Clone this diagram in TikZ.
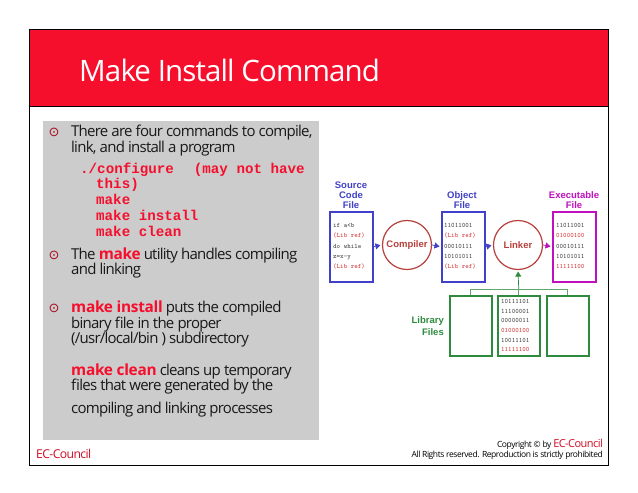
\documentclass[tikz,border=0pt]{standalone}
\usepackage{fontspec}
\setmainfont{Open Sans}
\newfontfamily\titlef[LetterSpace=-3]{Open Sans}
\newfontfamily\bodyf[LetterSpace=-5]{Open Sans}
\newfontfamily\boldf[LetterSpace=-2]{Open Sans Bold}
\newfontfamily\monof{Liberation Mono Bold}
\newfontfamily\labf{Liberation Sans Bold}
\newfontfamily\symf{DejaVu Sans}
\usetikzlibrary{arrows.meta}
\definecolor{slidered}{HTML}{F50F2D}
\definecolor{panelgray}{HTML}{CCCCCC}
\definecolor{circred}{HTML}{B8403C}
\definecolor{fblue}{HTML}{4040C8}
\definecolor{fmag}{HTML}{C010BE}
\definecolor{fgreen}{HTML}{2E8B3E}
\definecolor{libred}{HTML}{D84040}
\newcommand{\rd}[1]{{\boldf\fontsize{15.4}{15}\selectfont\textcolor{slidered}{#1}}}
\tikzset{x=1pt,y=-1pt,
 body/.style={anchor=base west,inner sep=0,font=\bodyf\fontsize{15}{15}\selectfont,text=black!90},
 code/.style={anchor=base west,inner sep=0,font=\monof\fontsize{14.2}{14.2}\selectfont,text=slidered},
 bul/.style={anchor=center,inner sep=0,font=\symf\fontsize{13}{13}\selectfont,text=slidered!70!black},
 filebox/.style={draw=#1,line width=1.5pt,minimum width=43pt,minimum height=70pt,inner sep=0,anchor=north west},
 libbox/.style={draw=fgreen,line width=1.5pt,minimum width=42pt,minimum height=60pt,inner sep=0,anchor=north west},
 proc/.style={circle,draw=circred,line width=1.2pt,minimum size=49pt,inner sep=0,font=\labf\fontsize{9.5}{9.5}\selectfont,text=circred},
 flab/.style={inner sep=0,align=center,font=\labf\fontsize{9.5}{10.2}\selectfont,text=#1},
 ftxt/.style={anchor=base west,inner sep=0,font=\ttfamily\bfseries\fontsize{6.7}{6.7}\selectfont,text=#1},
 flow/.style={draw=#1,line width=0.7pt,shorten >=1.5pt,-{Triangle[length=5pt,width=6pt]}},
 glink/.style={draw=fgreen!75,line width=0.8pt}
}
\begin{document}
\begin{tikzpicture}
\useasboundingbox (0,0) rectangle (638,493);
\fill[white] (0,0) rectangle (638,493);
\fill[slidered] (29,29) rectangle (608,106);
\fill[panelgray] (43,121) rectangle (319,440);
\draw[black,line width=1pt] (29,29) rectangle (608,465);
\draw[black,line width=1pt] (29,106) -- (608,106);
\node[anchor=base west,inner sep=0,text=white,font=\titlef\fontsize{29.5}{29.5}\selectfont] (title) at (79,81) {Make Install Command};
% bullets and text
\node[bul] (b1) at (54,132) {⊙};
\node[body] (t1) at (71,136) {There are four commands to compile,};
\node[body] (t2) at (71,152) {link, and install a program};
\node[code] (c1) at (80,173) {./configure\hskip 20pt(may not have};
\node[code] (c2) at (96,188) {this)};
\node[code] (c3) at (96,204) {make};
\node[code] (c4) at (96,220) {make install};
\node[code] (c5) at (96,236) {make clean};
\node[bul] (b2) at (54,255) {⊙};
\node[body] (t3) at (71,259) {The \rd{make} utility handles compiling};
\node[body] (t4) at (71,274) {and linking};
\node[bul] (b3) at (54,308) {⊙};
\node[body] (t5) at (71,312) {\rd{make install} puts the compiled};
\node[body] (t6) at (71,328) {binary file in the proper};
\node[body] (t7) at (71,343) {(/usr/local/bin ) subdirectory};
\node[body] (t8) at (71,375) {\rd{make clean} cleans up temporary};
\node[body] (t9) at (71,390) {files that were generated by the};
\node[body] (t10) at (71,413) {compiling and linking processes};
% footer
\node[anchor=base west,inner sep=0,text=slidered!85!black,font=\bodyf\fontsize{12.2}{12.2}\selectfont] (ec) at (36,458) {EC-Council};
\node[anchor=base east,inner sep=0,font=\bodyf\fontsize{8.5}{8.5}\selectfont] (cp) at (603,447) {Copyright © by \textcolor{slidered!85!black}{\fontsize{11}{11}\selectfont EC-Council}};
\node[anchor=base east,inner sep=0,font=\bodyf\fontsize{8.5}{8.5}\selectfont] (rr) at (603,457) {All Rights reserved. Reproduction is strictly prohibited};
% diagram
\node[flab=fblue,anchor=south] (ls) at (351,209) {Source\\Code\\File};
\node[flab=fblue,anchor=south] (lo) at (462,209) {Object\\File};
\node[flab=fmag,anchor=south] (le) at (574,209) {Executable\\File};
\node[filebox=fblue] (src) at (329,211) {};
\node[filebox=fblue] (obj) at (441,211) {};
\node[filebox=fmag] (exe) at (552,211) {};
\node[proc] (comp) at (407,245) {Compiler};
\node[proc] (link) at (518,245) {Linker};
\node[libbox] (l1) at (449,295) {};
\node[libbox] (l2) at (497,295) {};
\node[libbox] (l3) at (546,295) {};
\node[anchor=east,inner sep=0,align=right,font=\labf\fontsize{9.5}{11.5}\selectfont,text=fgreen] (ll) at (444,326) {Library\\Files};
\foreach \t/\c/\y/\n in {if a<b/black!70/227/a,(Lib ref)/libred/237/b,do while/black!70/248/c,z=x-y/black!70/258/d,(Lib ref)/libred/268/e}
  \node[ftxt=\c] (s\n) at (333,\y) {\t};
\foreach \t/\c/\y/\n in {11011001/black!70/227/a,(Lib ref)/libred/237/b,00010111/black!70/248/c,10101011/black!70/258/d,(Lib ref)/libred/268/e}
  \node[ftxt=\c] (o\n) at (444,\y) {\t};
\foreach \t/\c/\y/\n in {11011001/black!70/227/a,01000100/libred/237/b,00010111/black!70/248/c,10101011/black!70/258/d,11111100/libred/268/e}
  \node[ftxt=\c] (x\n) at (556,\y) {\t};
\foreach \t/\c/\y/\n in {10111101/black!70/303/a,11100001/black!70/313/b,00000011/black!70/322/c,01000100/libred/332/d,10011101/black!70/342/e,11111100/libred/351/f}
  \node[ftxt=\c] (m\n) at (501,\y) {\t};
\draw[flow=fblue] (src.east) -- (comp.west);
\draw[flow=fblue] (comp.east) -- (obj.west);
\draw[flow=fblue] (obj.east) -- (link.west);
\draw[flow=fmag] (link.east) -- (exe.west);
\coordinate (jl) at (l1.north |- 0,289);
\coordinate (jm) at (l2.north |- 0,289);
\coordinate (jr) at (l3.north |- 0,289);
\draw[glink] (l1.north) -- (jl) -- (jr) -- (l3.north);
\draw[glink] (l2.north) -- (jm);
\draw[flow=fgreen] (jm) -- (link.south);
\end{tikzpicture}
\end{document}
